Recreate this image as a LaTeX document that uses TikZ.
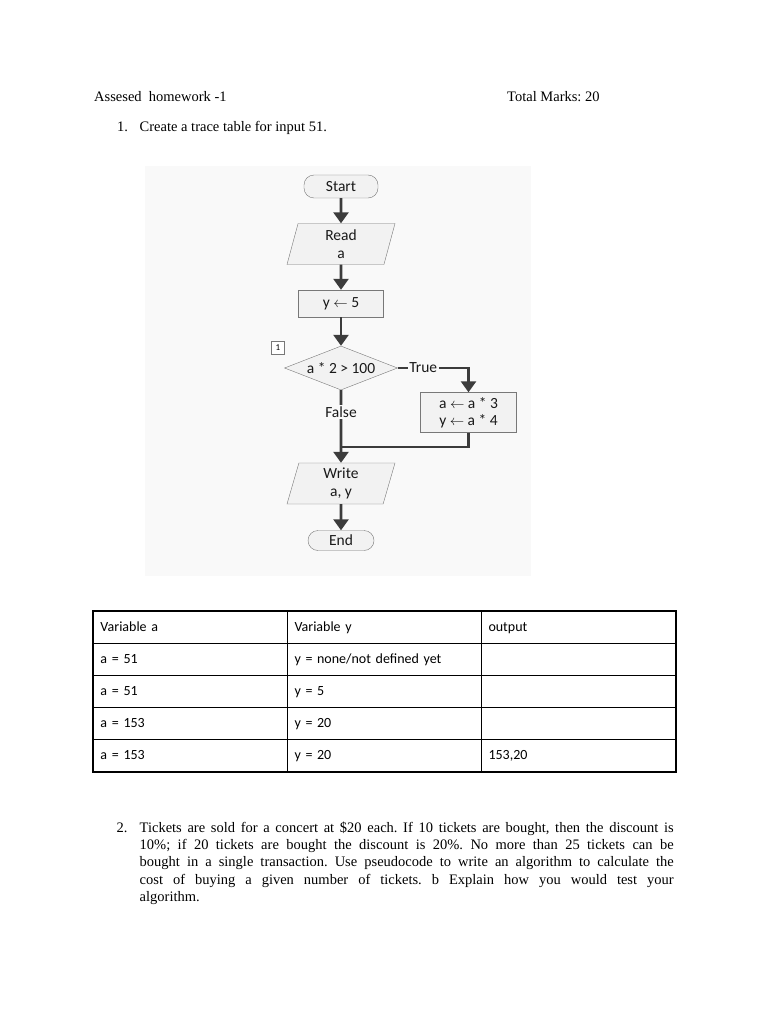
\documentclass[tikz,border=0pt]{standalone}
\usepackage{fontspec}
\setmainfont{Liberation Serif}
\newfontfamily\flowfont{Carlito}
\usetikzlibrary{positioning,arrows.meta,shapes.geometric,matrix}
\definecolor{shapefill}{RGB}{242,242,242}
\definecolor{shapeline}{RGB}{120,120,120}
\definecolor{flowink}{RGB}{60,60,60}
\definecolor{flowtext}{RGB}{25,25,25}
\definecolor{picbg}{RGB}{249,249,249}
\tikzset{
  body/.style={font=\fontsize{14.5}{17.2}\selectfont, inner sep=0pt},
  fbox/.style={draw=shapeline, fill=shapefill, thin, text=flowtext, inner sep=1pt,
               align=center, font=\flowfont\fontsize{15.5}{17.5}\selectfont},
  term/.style={fbox, rounded corners=10pt},
  inout/.style={fbox, trapezium, trapezium left angle=70, trapezium right angle=110,
                trapezium stretches body, minimum width=108pt, minimum height=41pt},
  proc/.style={fbox},
  cond/.style={fbox, diamond, aspect=2.5, inner sep=0pt, minimum width=113pt, minimum height=44pt},
  tag/.style={draw=shapeline, fill=white, minimum size=13pt, inner sep=0pt,
              font=\flowfont\fontsize{9}{10}\selectfont},
  flow/.style={-{Triangle[length=11pt,width=15pt]}, line width=2.6pt, flowink},
  flowline/.style={line width=2.6pt, flowink},
  branch/.style={font=\flowfont\fontsize{15.5}{17.5}\selectfont, text=flowtext, fill=picbg, inner sep=1.5pt},
  cell/.style={draw=black, line width=0.6pt, text width=180pt, inner xsep=7pt, inner ysep=0pt,
               minimum height=32pt, text height=9.5pt, text depth=2.5pt, align=left,
               font=\flowfont\fontsize{14}{16}\selectfont},
  tabframe/.style={draw=black, line width=1.6pt}
}
\begin{document}
\frenchspacing
\begin{tikzpicture}[x=1pt, y=-1pt]
\useasboundingbox (0,0) rectangle (768,1024);
\fill[white] (0,0) rectangle (768,1024);
\fill[picbg] (145,166) rectangle (531,576);

% heading and question 1
\node[body, anchor=base west] (title) at (94,101.5) {Assesed\ \ homework -1};
\node[body, anchor=base west] (marks) at (507,101.5) {Total Marks: 20};
\node[body, anchor=base west] (q1num) at (117,131.5) {1.};
\node[body, anchor=base west] (q1) at (139.5,131.5) {Create a trace table for input 51.};

% flowchart
\node[term, minimum width=74pt, minimum height=23pt] (start) at (341,186.5) {Start};
\node[inout] (read) at (341,244) {Read\\a};
\node[proc, minimum width=85pt, minimum height=27pt] (sety) at (341,303.5) {y $\leftarrow$ 5};
\node[cond] (test) at (341,368) {a * 2 > 100};
\node[tag] (mark) at (278,347.5) {1};
\node[proc, minimum width=96pt, minimum height=40pt] (upd) at (468.5,412.5) {a $\leftarrow$ a * 3\\y $\leftarrow$ a * 4};
\node[inout] (wr) at (341,483.5) {Write\\a, y};
\node[term, minimum width=66pt, minimum height=20pt] (stop) at (341,540.5) {End};
\coordinate (join) at (341,447);

\draw[flow] (start) -- (read);
\draw[flow] (read) -- (sety);
\draw[flow] (sety) -- (test);
\draw[flow] (test.east) -| (upd.north) node[branch, pos=0.18] (tlab) {True};
\draw[flow] (test.south) -- (wr.north) node[branch, pos=0.3] (flab) {False};
\draw[flowline] (upd.south) |- (join);
\draw[flow] (wr) -- (stop);

% trace table
\matrix (trace) [matrix of nodes, nodes in empty cells, anchor=north west, inner sep=0pt,
                 row sep=-0.6pt, column sep=-0.6pt, nodes={cell}] at (93,611) {
  Variable a & Variable y & output \\
  a = 51 & y = none/not defined yet & \\
  a = 51 & y = 5 & \\
  a = 153 & y = 20 & \\
  a = 153 & y = 20 & 153,20 \\
};
\draw[tabframe] (trace.north west) rectangle (trace.south east);

% question 2
\node[body, anchor=base west] (q2num) at (116.5,832.5) {2.};
\node[body, anchor=base west, align=left] (q2) at (139.5,901.3) {%
  \makebox[534pt][s]{Tickets are sold for a concert at \$20 each. If 10 tickets are bought, then the discount is}\\
  \makebox[534pt][s]{10\%; if 20 tickets are bought the discount is 20\%. No more than 25 tickets can be}\\
  \makebox[534pt][s]{bought in a single transaction. Use pseudocode to write an algorithm to calculate the}\\
  \makebox[534pt][s]{cost of buying a given number of tickets. b Explain how you would test your}\\
  algorithm.};
\end{tikzpicture}
\end{document}
